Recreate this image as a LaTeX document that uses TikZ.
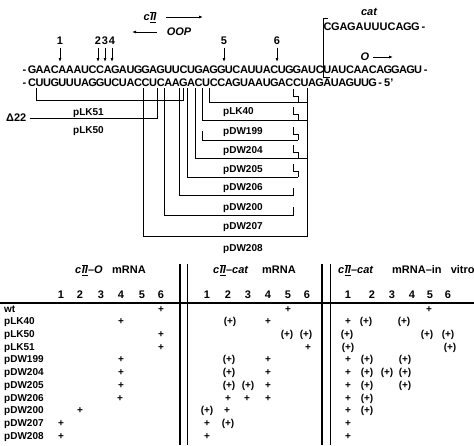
\documentclass[tikz,border=0pt]{standalone}
\usepackage{fontspec}
\setmainfont{Liberation Sans}
\usetikzlibrary{arrows.meta}

% one letter of a sequence every #3 pt
\newcommand\seqrow[5]{%
    \foreach \b [count=\i from 0] in {#5}
        \node[nt] (#1\i) at ({#2+#3*\i},#4) {\b};
}
% gene name with the barred roman two
\newcommand\cgene{c\kern0.6pt$\overline{\underline{\hbox{II}}}$}

\begin{document}
\begin{tikzpicture}[x=1pt, y=-1pt,
    nt/.style={inner sep=0pt, text height=7.9pt, text depth=0pt, font=\fontsize{11}{13}\selectfont\bfseries},
    txt/.style={inner sep=0pt, text height=7.2pt, text depth=0pt, font=\fontsize{10}{12}\selectfont\bfseries},
    big/.style={txt, text height=7.9pt, font=\fontsize{11}{13}\selectfont\bfseries},
    gene/.style={big, font=\fontsize{11}{13}\selectfont\bfseries\itshape},
    ln/.style={line width=0.8pt},
    arr/.style={ln, -{Latex[length=4pt, width=3pt]}}]

    \useasboundingbox (0,0) rectangle (474,445);

    % the two strands and the cat junction
    \seqrow{a}{24.5}{7.57}{69.7}{-,G,A,A,C,A,A,A,U,C,C,A,G,A,U,G,G,A,G,U,U,C,U,G,A,G,G,U,C,A,U,U,A,C,U,G,G,A,U,C,U,A,U,C,A,A,C,A,G,G,A,G,U,-}
    \seqrow{b}{24.5}{7.57}{82.2}{-,C,U,U,G,U,U,U,A,G,G,U,C,U,A,C,C,U,C,A,A,G,A,C,U,C,C,A,G,U,A,A,U,G,A,C,C,U,A,G,A,U,A,G,U,U,G,-}
    \node[nt, anchor=west] (b5) at (384,82.2) {5'};
    \seqrow{k}{327.5}{8}{26.2}{C,G,A,G,A,U,U,U,C,A,G,G,-}
    \draw[ln] (328,18) -| (323,77) -- (330,77);

    \node[gene] (catlab) at (369,11.4) {cat};
    \node[gene] (cII) at (150,17) {\cgene};
    \coordinate (cIIend) at (203,17);
    \draw[arr, shorten <=9pt] (cII.east) -- (cIIend);
    \node[gene] (oop) at (179,32) {OOP};
    \coordinate (oopend) at (132,32);
    \draw[arr, shorten <=10pt] (oop.west) -- (oopend);
    \node[gene] (O) at (365,57) {O};
    \coordinate (Oend) at (393,57);
    \draw[arr, shorten <=4pt] (O.east) -- (Oend);

    \foreach \n/\x in {1/60, 2/98, 3/105, 4/112, 5/224, 6/277} {
        \node[big] (n\n) at (\x,40.5) {\n};
        \coordinate (s\n) at (\x,62);
        \draw[arr, shorten <=3pt] (n\n.south) -- (s\n);
    }

    % deletion endpoints
    \node[big, anchor=west] (d22) at (6,118) {Δ22};
    \draw[ln, shorten <=3pt] (d22.east) -| (157,88);
    \draw[ln] (36,88) |- (183,100) -- (183,88);
    \node[txt, anchor=west] (lk51) at (73,112) {pLK51};
    \node[txt, anchor=west] (lk50) at (73,130) {pLK50};

    \draw[ln] (209,88) |- (307,102);
    \draw[ln] (202,88) |- (307,120);
    \draw[ln] (202,131) |- (298,140);
    \draw[ln] (195,88) |- (307,158);
    \draw[ln] (187,88) |- (298,177);
    \draw[ln] (179,88) |- (293,195) -- (293,188);
    \draw[ln] (164,88) |- (293,215) -- (293,207);
    \draw[ln] (143,88) |- (307,236) -- (307,88);
    \foreach \y in {102,120,140,158,177}
        \draw[ln] (298,\y) -- (298,\y-6) -- (293,\y-6) -- (293,\y-13);

    \foreach \p/\y [count=\i] in {pLK40/111, pDW199/131, pDW204/150, pDW205/169, pDW206/187, pDW200/207, pDW207/226, pDW208/248}
        \node[txt, anchor=west] (del\i) at (223,\y) {\p};

    % table
    \node[gene, anchor=west] (h1) at (75,270) {\cgene–O};
    \node[big, anchor=west] (h1m) at (112,270) {mRNA};
    \node[gene, anchor=west] (h2) at (213,270) {\cgene–cat};
    \node[big, anchor=west] (h2m) at (262,270) {mRNA};
    \node[gene, anchor=west] (h3) at (338,270) {\cgene–cat};
    \node[big, anchor=west] (h3m) at (392,270) {mRNA–in\hspace{6pt} vitro};

    \foreach \x [count=\i] in {61,80,101,121,142,161}
        \node[big] (ha\i) at (\x,295) {\i};
    \foreach \x [count=\i] in {207,228,248,268,288,307}
        \node[big] (hb\i) at (\x,295) {\i};
    \foreach \x [count=\i] in {348,372,392,412,430,448}
        \node[big] (hc\i) at (\x,295) {\i};

    \draw[line width=1.2pt] (0,303) -- (474,303);
    \draw[line width=1.1pt] (180,264) -- (180,445);
    \draw[line width=0.6pt] (187,264) -- (187,445);
    \draw[line width=1.1pt] (322,264) -- (322,445);
    \draw[line width=0.6pt] (330,264) -- (330,445);

    \foreach \p [count=\i from 0] in {wt,pLK40,pLK50,pLK51,pDW199,pDW204,pDW205,pDW206,pDW200,pDW207,pDW208}
        \node[txt, anchor=west] (row\i) at (4,{308.5+12.7*\i}) {\p};

    \foreach \r/\x/\m in {0/161/+, 0/288/+, 0/429/+,
        1/121/+, 1/230/(+), 1/268/+, 1/348/+, 1/366/(+), 1/404/(+),
        2/161/+, 2/287/(+), 2/306/(+), 2/347/(+), 2/427/(+), 2/448/(+),
        3/161/+, 3/308/+, 3/348/(+), 3/450/(+),
        4/121/+, 4/229/(+), 4/268/+, 4/348/+, 4/367/(+), 4/405/(+),
        5/121/+, 5/229/(+), 5/268/+, 5/348/+, 5/367/(+), 5/387/(+), 5/405/(+),
        6/121/+, 6/229/(+), 6/248/(+), 6/268/+, 6/348/+, 6/367/(+), 6/405/(+),
        7/120/+, 7/228/+, 7/247/+, 7/268/+, 7/348/+, 7/367/(+),
        8/80/+, 8/207/(+), 8/227/+, 8/348/+, 8/367/(+),
        9/61/+, 9/207/+, 9/228/(+), 9/348/+,
        10/61/+, 10/207/+, 10/348/+}
        \node[txt] (e\r-\x) at (\x,{308.5+12.7*\r}) {\m};
\end{tikzpicture}
\end{document}
